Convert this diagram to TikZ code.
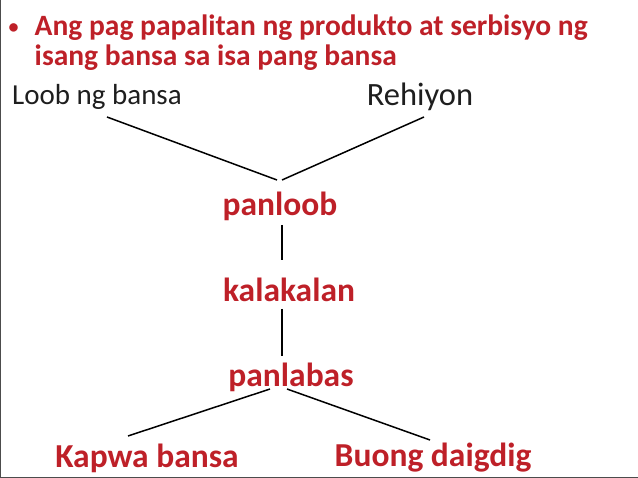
\documentclass[tikz,border=0pt]{standalone}
\usepackage{fontspec}
\setmainfont{Carlito}
\usetikzlibrary{calc}
\definecolor{slidered}{RGB}{190,32,40}
\definecolor{slidegray}{RGB}{30,30,30}
\begin{document}
\begin{tikzpicture}[x=1pt,y=-1pt]
    \tikzstyle{every node}=[inner sep=0pt];
    \tikzstyle{every path}=[line width=1.5pt];
    \tikzstyle{redlabel}=[text=slidered,font=\fontsize{33.5}{37}\selectfont\bfseries];
    \tikzstyle{graylabel}=[text=slidegray,font=\fontsize{29}{33}\selectfont];
    \useasboundingbox (0,0) rectangle (638,478);
    \draw[line width=1pt,gray!60!black] (0,0) rectangle (638,478);

    \node at (8, 14) (title) [anchor=north west,align=left,text=slidered,font=\fontsize{29.5}{30}\selectfont\bfseries]
        {\makebox[26pt][l]{\raisebox{2pt}{\fontsize{20}{20}\selectfont•}}Ang pag papalitan ng produkto at serbisyo ng\\\hspace*{26pt}isang bansa sa isa pang bansa};

    \node at (97, 97)   (loob)      [graylabel] {Loob ng bansa};
    \node at (420, 97)  (rehiyon)   [graylabel,font=\fontsize{32.5}{36}\selectfont] {Rehiyon};
    \node at (280, 206) (panloob)   [redlabel] {panloob};
    \node at (289, 290) (kalakalan) [redlabel] {kalakalan};
    \node at (291, 377) (panlabas)  [redlabel] {panlabas};
    \node at (147, 458) (kapwa)     [redlabel] {Kapwa bansa};
    \node at (433, 458) (buong)     [redlabel] {Buong daigdig};

    \draw ($(loob)+(10,20)$) -- ($(panloob)+(-3,-26)$);
    \draw ($(rehiyon)+(4,20)$) -- ($(panloob)+(2,-26)$);
    \draw ($(panloob)+(2,19)$) -- ($(kalakalan)+(-7,-30)$);
    \draw ($(kalakalan)+(-7,19)$) -- ($(panlabas)+(-9,-21)$);
    \draw ($(panlabas)+(-21,12)$) -- ($(kapwa)+(-19,-22)$);
    \draw ($(panlabas)+(-4,12)$) -- ($(buong)+(-3,-18)$);
\end{tikzpicture}
\end{document}
